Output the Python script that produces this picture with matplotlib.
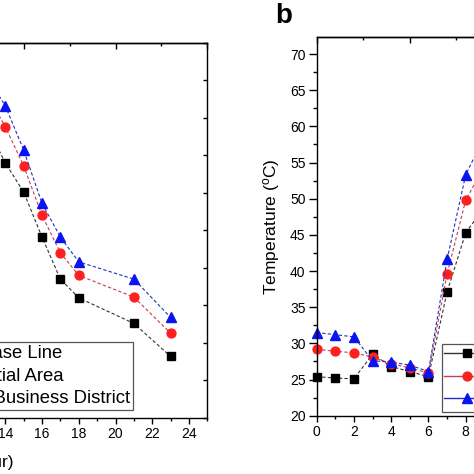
import matplotlib
matplotlib.use('Agg')
import matplotlib.pyplot as plt
from matplotlib.lines import Line2D
from matplotlib.ticker import MultipleLocator, NullFormatter

plt.rcParams['font.family'] = ['Liberation Sans', 'DejaVu Sans']
plt.rcParams['mathtext.default'] = 'regular'

# ---------------- data ----------------
series_labels = ['          Base Line', 'Residential Area', 'Central Business District']
series_colors = ['#000000', '#ff1f1f', '#0a14f0']
line_colors = ['#333333', '#c04050', '#2030c0']
series_markers = ['s', 'o', '^']
marker_sizes = [5.4, 6.4, 7.0]

# panel a (visible part)
hours_a = [13, 14, 15, 16, 17, 18, 21, 23]
base_a = [58.9, 54.0, 50.1, 44.1, 38.5, 36.0, 32.6, 28.2]
res_a = [63.2, 58.8, 53.6, 47.0, 42.0, 39.0, 36.1, 31.3]
cbd_a = [65.5, 61.6, 55.7, 48.6, 44.1, 40.8, 38.5, 33.4]

# panel b (visible part)
hours_b = [0, 1, 2, 3, 4, 5, 6, 7, 8, 9]
base_b = [25.4, 25.2, 25.1, 28.5, 26.8, 26.1, 25.4, 37.1, 45.3, 48.8]
res_b = [29.2, 28.9, 28.7, 28.1, 27.2, 26.6, 25.9, 39.6, 49.8, 54.5]
cbd_b = [31.5, 31.2, 30.9, 27.6, 27.4, 27.0, 26.1, 41.6, 53.3, 58.6]

W = 474.0
fig = plt.figure(figsize=(4.74, 4.74), dpi=100)

def px_rect(left, top, right, bottom):
    return [left / W, 1 - bottom / W, (right - left) / W, (bottom - top) / W]

spine_lw = 1.0
xa0, xa1 = 12.5, 25
xb0, xb1 = 0, 9.5

# ---------------- panel a ----------------
ax_a = fig.add_axes(px_rect(207.4 - (xa1 - xa0) * 18.375, 42.7, 207.4, 418.0))
for ys, c, lc, m, ms in zip([base_a, res_a, cbd_a], series_colors, line_colors,
                            series_markers, marker_sizes):
    ax_a.plot(hours_a, ys, ls=(0, (3, 2)), lw=0.8, color=lc,
              marker=m, markersize=ms, markerfacecolor=c, markeredgecolor=c,
              clip_on=False)
ax_a.set_xlim(xa0, xa1)
ax_a.set_ylim(20, 70)
ax_a.xaxis.set_major_locator(MultipleLocator(2))
ax_a.xaxis.set_minor_locator(MultipleLocator(1))
ax_a.yaxis.set_major_locator(MultipleLocator(5))
ax_a.tick_params(axis='x', which='major', direction='out', length=4.3, width=1.0,
                 labelsize=10, pad=2.5, top=False)
ax_a.tick_params(axis='x', which='minor', direction='out', length=2.5, width=1.0, top=False)
ax_a.tick_params(axis='y', which='major', direction='in', length=3, width=1.0,
                 left=False, right=True, labelleft=False)
for s in ax_a.spines.values():
    s.set_linewidth(spine_lw)
sec_a = ax_a.secondary_xaxis('top')
sec_a.xaxis.set_major_locator(MultipleLocator(5))
sec_a.xaxis.set_minor_locator(MultipleLocator(2.5))
sec_a.xaxis.set_major_formatter(NullFormatter())
sec_a.tick_params(which='major', direction='in', length=4, width=1.0)
sec_a.tick_params(which='minor', direction='in', length=2.5, width=1.0)
sec_a.spines['top'].set_linewidth(spine_lw)

handles = [Line2D([], [], color=lc, lw=1.0, marker=m, markersize=ms,
                  markerfacecolor=c, markeredgecolor=c)
           for c, lc, m, ms in zip(series_colors, line_colors, series_markers, marker_sizes)]

leg_a = ax_a.legend(handles, series_labels, loc='lower right',
                    bbox_to_anchor=(133 / W, 1 - 410 / W), bbox_transform=fig.transFigure,
                    fontsize=13.3, fancybox=False, edgecolor='#555555', framealpha=1,
                    borderpad=0.15, labelspacing=0.3, handlelength=2.4,
                    handletextpad=0.5, borderaxespad=0)
leg_a.get_frame().set_linewidth(0.9)

fig.text(13 / W, 1 - 463 / W, 'Time (hour)', fontsize=12.5, ha='right', va='center')

# ---------------- panel b ----------------
ax_b = fig.add_axes(px_rect(316.7, 36.7, 316.7 + (xb1 - xb0) * 18.625, 415.7))
for ys, c, lc, m, ms in zip([base_b, res_b, cbd_b], series_colors, line_colors,
                            series_markers, marker_sizes):
    ax_b.plot(hours_b, ys, ls=(0, (3, 2)), lw=0.8, color=lc,
              marker=m, markersize=ms, markerfacecolor=c, markeredgecolor=c,
              clip_on=False)
ax_b.set_xlim(xb0, xb1)
ax_b.set_ylim(20, 72.4)
ax_b.xaxis.set_major_locator(MultipleLocator(2))
ax_b.xaxis.set_minor_locator(MultipleLocator(1))
ax_b.yaxis.set_major_locator(MultipleLocator(5))
ax_b.yaxis.set_minor_locator(MultipleLocator(2.5))
ax_b.tick_params(axis='x', which='major', direction='out', length=4.3, width=1.0,
                 labelsize=10, pad=2.5, top=False)
ax_b.tick_params(axis='x', which='minor', direction='out', length=2.5, width=1.0, top=False)
ax_b.tick_params(axis='y', which='major', direction='out', length=5.5, width=1.0,
                 labelsize=10, pad=2.5)
ax_b.tick_params(axis='y', which='minor', direction='out', length=3, width=1.0)
for s in ax_b.spines.values():
    s.set_linewidth(spine_lw)
sec_b = ax_b.secondary_xaxis('top')
sec_b.xaxis.set_major_locator(MultipleLocator(5))
sec_b.xaxis.set_minor_locator(MultipleLocator(2.5))
sec_b.xaxis.set_major_formatter(NullFormatter())
sec_b.tick_params(which='major', direction='in', length=4, width=1.0)
sec_b.tick_params(which='minor', direction='in', length=2.5, width=1.0)
sec_b.spines['top'].set_linewidth(spine_lw)

ax_b.set_ylabel('Temperature ($^{o}$C)', fontsize=12.5, labelpad=6)

leg_b = ax_b.legend(handles, series_labels, loc='lower left',
                    bbox_to_anchor=(441.7 / W, 1 - 411.7 / W), bbox_transform=fig.transFigure,
                    fontsize=13.3, fancybox=False, edgecolor='#555555', framealpha=1,
                    borderpad=0.15, labelspacing=0.3, handlelength=2.4,
                    handletextpad=0.5, borderaxespad=0)
leg_b.get_frame().set_linewidth(0.9)

fig.text(275 / W, 1 - 23 / W, 'b', fontsize=20, fontweight='bold', ha='left', va='baseline')

fig.savefig('out.png', dpi=100)
